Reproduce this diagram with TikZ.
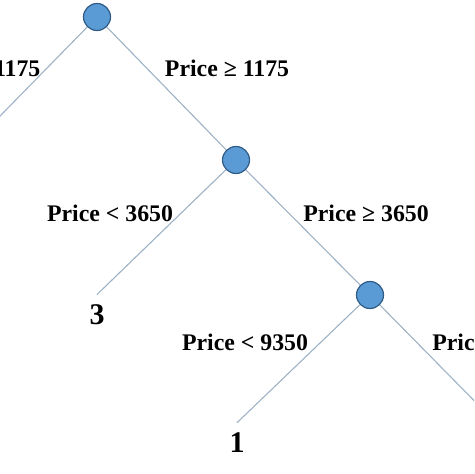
\documentclass[tikz,border=0pt]{standalone}
\usepackage{fontspec}
\setmainfont{Liberation Serif}
\definecolor{dotfill}{HTML}{5B9BD5}
\definecolor{dotline}{HTML}{2E5C87}
\definecolor{edgeline}{HTML}{9DB2C6}
\newcommand{\CondFont}{\fontsize{11.9}{14}\selectfont\bfseries}
\newcommand{\LeafFont}{\fontsize{15}{18}\selectfont\bfseries}

\begin{document}
\begin{tikzpicture}[x=0.5pt,y=-0.5pt,
  dot/.style={circle,draw=dotline,fill=dotfill,line width=0.6pt,minimum size=13.5pt,inner sep=0pt},
  leaf/.style={font=\LeafFont,inner sep=5pt},
  cond/.style={font=\CondFont,inner sep=0pt},
  edge/.style={draw=edgeline,line width=0.55pt}]

\useasboundingbox (0,0) rectangle (474,474);
\clip (0,0) rectangle (474,474);

% split nodes
\node[dot] (root) at (97,17) {};
\node[dot] (mid) at (236,160) {};
\node[dot] (low) at (370,295) {};

% leaves
\node[leaf] (three) at (97,315) {3};
\node[leaf] (one) at (237,443) {1};

% children outside the frame
\coordinate (outleft) at (-43,160);
\coordinate (outright) at (505,432);

\draw[edge] (root) -- (outleft);
\draw[edge] (root) -- (mid);
\draw[edge] (mid) -- (three.north);
\draw[edge] (mid) -- (low);
\draw[edge] (low) -- (one.north);
\draw[edge] (low) -- (outright);

% conditions
\node[cond] at (-22,68) {Price < 1175};
\node[cond] at (227,68) {Price ≥ 1175};
\node[cond] at (110,213) {Price < 3650};
\node[cond] at (366,213) {Price ≥ 3650};
\node[cond] at (245,342) {Price < 9350};
\node[cond] at (495,342) {Price ≥ 9350};

\end{tikzpicture}
\end{document}
